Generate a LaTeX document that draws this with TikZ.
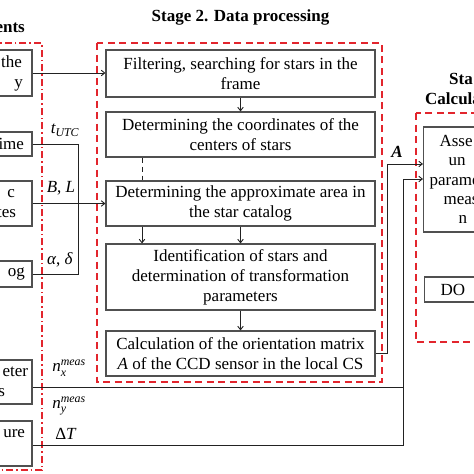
\documentclass[tikz,border=0pt]{standalone}
\usepackage{fontspec}
\setmainfont{Liberation Serif}
\usepackage{amsmath}
\usetikzlibrary{arrows.meta,calc}
\definecolor{rojo}{HTML}{E2252D}
\definecolor{borde}{HTML}{505050}
\definecolor{linea}{HTML}{222222}
\newcommand{\hueco}[1]{\leavevmode\kern#1pt}
\tikzset{
  caja/.style={draw=borde, line width=1.1pt, inner sep=0pt, align=center},
  entrada/.style={caja, minimum width=120pt, text width=116pt, align=right},
  salida/.style={caja, minimum width=120pt, text width=110pt, align=left},
  etapa/.style={caja, minimum width=269pt},
  flecha/.style={draw=linea, line width=0.9pt, -{Straight Barb[length=3.5pt,width=5.5pt]}},
  enlace/.style={draw=linea, line width=0.9pt},
  marco/.style={draw=rojo, line width=1.8pt, dash pattern=on 7pt off 4.5pt},
  marcopunto/.style={draw=rojo, line width=1.8pt, dash pattern=on 7pt off 3pt on 1.5pt off 3pt},
  titulo/.style={font=\fontsize{17}{20}\selectfont\bfseries, inner sep=0pt},
  var/.style={inner sep=0pt}
}

\begin{document}
\begin{tikzpicture}[x=1pt, y=-1pt, font=\fontsize{17}{20}\selectfont]
  \useasboundingbox (0,0) rectangle (474,474);
  \clip (0,0) rectangle (474,474);

  % frames of the stages
  \draw[marcopunto] (-60,43) rectangle (42,470);
  \draw[marco] (97,43) rectangle (382,382);
  \draw[marco] (416,113) rectangle (540,342);

  \node[titulo, anchor=east] (tit1) at (25,28) {ents};
  \node[titulo] (tit2) at (240.5,17) {Stage 2. Data processing};
  \node[titulo, anchor=west, align=left] (tit3) at (425,89) {\hueco{24}Sta\\Calcula};

  % stage 1 (inputs)
  \node[entrada, minimum height=46pt] (img) at (-28,73) {the\hueco{8}\\y\hueco{7}};
  \node[entrada, minimum height=24pt] (time) at (-28,144) {ime\hueco{6}};
  \node[entrada, minimum height=45pt] (geo) at (-28,203.5) {c\hueco{15}\\tes\hueco{14}};
  \node[entrada, minimum height=26pt] (cat) at (-28,274) {og\hueco{5}};
  \node[entrada, minimum height=44pt] (incl) at (-28,382) {eter\hueco{2}\\s\hueco{25}};
  \node[entrada, minimum height=45pt] (temp) at (-28,443.5) {ure\hueco{5}\\\mbox{}};

  % stage 2
  \node[etapa, minimum height=47pt] (filt) at (240.5,73.5)
    {Filtering, searching for stars in the\\frame};
  \node[etapa, minimum height=45pt] (crd) at (240.5,134.5)
    {Determining the coordinates of the\\centers of stars};
  \node[etapa, minimum height=45pt] (area) at (240.5,203.5)
    {Determining the approximate area in\\the star catalog};
  \node[etapa, minimum height=66pt] (ident) at (240.5,277)
    {Identification of stars and\\determination of transformation\\parameters};
  \node[etapa, minimum height=45pt] (orient) at (240.5,353.5)
    {Calculation of the orientation matrix\\\textit{A} of the CCD sensor in the local CS};

  % stage 3
  \node[salida, minimum height=105pt, font=\fontsize{17}{19.3}\selectfont, anchor=west] (asm) at (423,179.5)
    {\hueco{11}Asse\\\hueco{20}un\\\hueco{1}parame\\\hueco{15}meas\\\hueco{30}n};
  \node[salida, minimum height=25pt, anchor=west] (dop) at (424,289.5) {\hueco{11}DO};

  % signals
  \node[var] (tutc) at (65,130) {$\textit{t}_{\textit{UTC}}$};
  \node[var] (bl) at (61,188) {\textit{B}, \textit{L}};
  \node[var] (ad) at (60,260) {\textit{α}, \textit{δ}};
  \node[var] (nx) at (69,368) {$\textit{n}_{\textit{x}}^{\textit{meas}}$};
  \node[var] (ny) at (69,406) {$\textit{n}_{\textit{y}}^{\textit{meas}}$};
  \node[var] (dT) at (66,434) {Δ\textit{T}};
  \node[var] (lA) at (397,152) {\textbf{\textit{A}}};

  \coordinate (lx) at (142,0);
  \coordinate (jn) at (78,203.5);
  \coordinate (kA) at (387,164);
  \coordinate (kN) at (403,179);

  \draw[flecha] (img.east) -- (img.east -| filt.west);
  \draw[flecha] (filt) -- (crd);
  \draw[enlace, dash pattern=on 5pt off 4pt] (crd.south -| lx) -- (area.north -| lx);
  \draw[flecha] (area.south -| lx) -- (ident.north -| lx);
  \draw[flecha] (area) -- (ident);
  \draw[flecha] (ident) -- (orient);

  \draw[enlace] (time.east) -| (jn);
  \draw[enlace] (cat.east) -| (jn);
  \draw[flecha] (geo.east) -- (area.west);

  \draw[flecha] (orient.east) -| (kA) -- (kA -| asm.west);
  \draw[enlace] ([yshift=-5pt]incl.east) -- ([yshift=-5pt]incl.east -| kN);
  \draw[flecha] ([yshift=-2pt]temp.east) -| (kN) -- (kN -| asm.west);
\end{tikzpicture}
\end{document}
